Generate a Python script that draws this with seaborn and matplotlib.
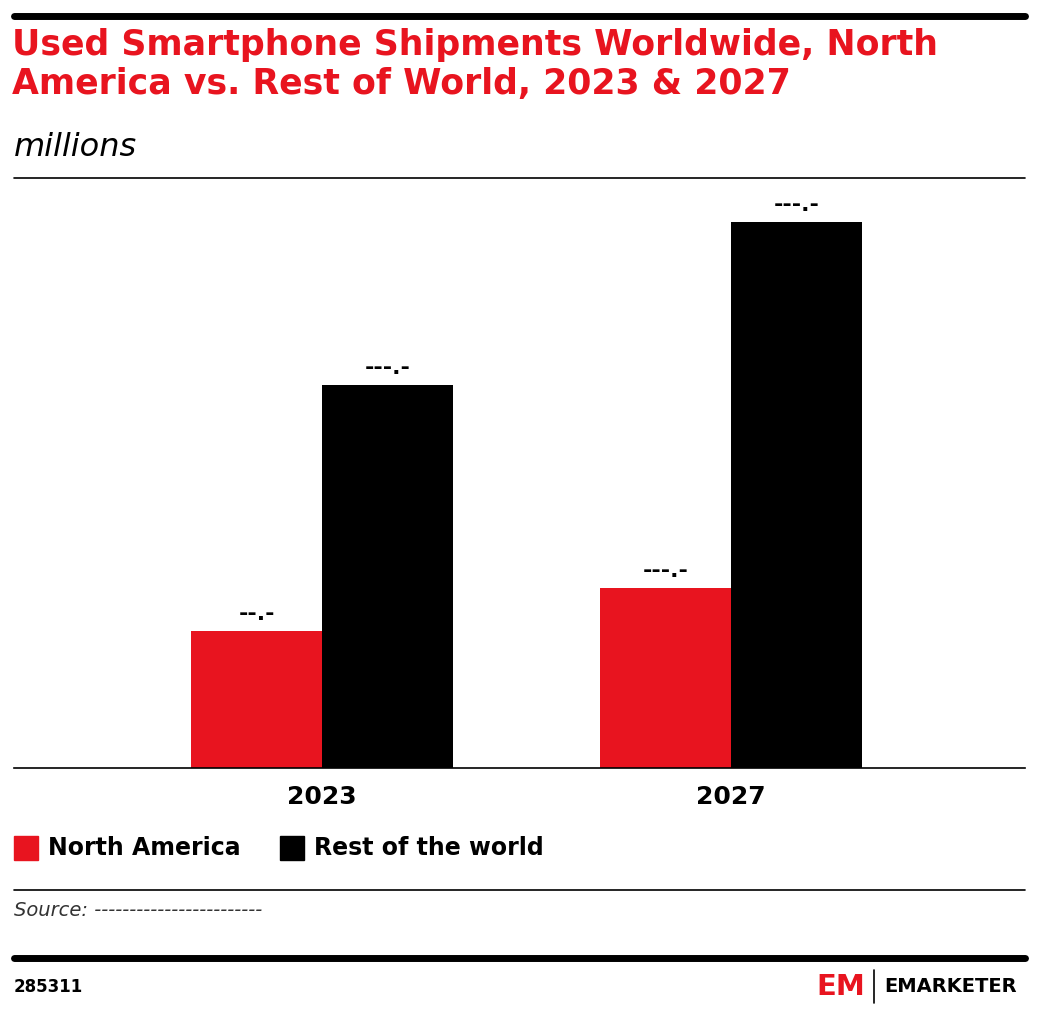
import matplotlib.pyplot as plt
import seaborn as sns
import pandas as pd

years = ["2023", "2027"]
north_america = [13.7, 18.0]
rest_of_world = [38.3, 54.6]
value_labels = [["--.-", "---.-"], ["---.-", "---.-"]]

RED = "#e8141f"

df = pd.DataFrame({
    "year": years * 2,
    "value": north_america + rest_of_world,
    "region": ["North America"] * 2 + ["Rest of the world"] * 2,
})

sns.set_style("white")
plt.rcParams["font.family"] = ["DejaVu Sans"]
plt.rcParams["text.color"] = "black"
plt.rcParams["xtick.color"] = "black"

W, H = 1038, 1017
fig = plt.figure(figsize=(W / 100, H / 100), dpi=100)
ax = fig.add_axes([14 / W, 1 - 768 / H, 1011 / W, 588 / H])

sns.barplot(data=df, x="year", y="value", hue="region",
            palette=[RED, "black"], width=0.64, saturation=1,
            legend=False, ax=ax, linewidth=0)

for i, cont in enumerate(ax.containers):
    ax.bar_label(cont, labels=value_labels[i], padding=5, fontsize=16,
                 fontweight="bold")

ax.set_xlim(-0.753, 1.719)
ax.set_ylim(0, 58.8)
ax.set_yticks([])
ax.set_xlabel("")
ax.set_ylabel("")
for s in ["top", "left", "right"]:
    ax.spines[s].set_visible(False)
ax.spines["bottom"].set_color("black")
ax.spines["bottom"].set_linewidth(1.2)
ax.tick_params(axis="x", length=0, pad=12, labelsize=18)
for t in ax.get_xticklabels():
    t.set_fontweight("bold")

def hline(y, lw):
    fig.add_artist(plt.Line2D([14 / W, 1025 / W], [1 - y / H] * 2,
                              color="black", linewidth=lw))

hline(16, 5)
hline(178, 1.2)
hline(890, 1.2)
hline(958, 5)

fig.text(12 / W, 1 - 28 / H, "Used Smartphone Shipments Worldwide, North\nAmerica vs. Rest of World, 2023 & 2027",
         color=RED, fontsize=25, fontweight="bold", va="top", linespacing=1.2)
fig.text(14 / W, 1 - 148 / H, "millions", fontsize=23, style="italic", va="center")

# legend
fig.patches.append(plt.Rectangle((14 / W, 1 - 860 / H), 24 / W, 24 / H,
                                 color=RED, transform=fig.transFigure))
fig.text(48 / W, 1 - 848 / H, "North America", fontsize=17, fontweight="bold", va="center")
fig.patches.append(plt.Rectangle((280 / W, 1 - 860 / H), 24 / W, 24 / H,
                                 color="black", transform=fig.transFigure))
fig.text(314 / W, 1 - 848 / H, "Rest of the world", fontsize=17, fontweight="bold", va="center")

fig.text(14 / W, 1 - 911 / H, "Source: ------------------------", fontsize=14,
         style="italic", va="center", color="#333333")
fig.text(14 / W, 1 - 987 / H, "285311", fontsize=12, fontweight="bold", va="center")

# logo
fig.text(816 / W, 1 - 987 / H, "EM", color=RED, fontsize=21, fontweight="bold", va="center")
fig.add_artist(plt.Line2D([874 / W] * 2, [1 - 970 / H, 1 - 1003 / H], color="black", linewidth=1.2))
fig.text(884 / W, 1 - 987 / H, "EMARKETER", fontsize=14, fontweight="bold", va="center")

fig.savefig("out.png", dpi=100)
